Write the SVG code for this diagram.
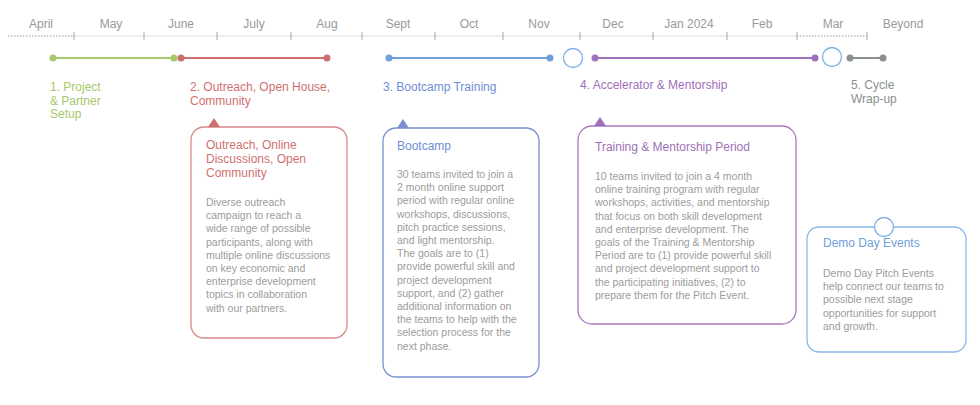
<svg xmlns="http://www.w3.org/2000/svg" width="980" height="405" viewBox="0 0 980 405">
<style>
text{font-family:"Liberation Sans",Arial,sans-serif}
.m{font-size:12px;fill:#9a9a9a;text-anchor:middle}
.b{font-size:10.5px;fill:#9c9c9c}
.t{font-size:12px}
.tick{stroke:#a8a8a8;stroke-width:1}
.box{fill:#fff;stroke-width:1.3}
</style>
<g id="axis">
<line x1="74" y1="36" x2="797" y2="36" stroke="#e0e0e0" stroke-width="1"/>
<line x1="8" y1="36" x2="74" y2="36" stroke="#999" stroke-dasharray="1.5,1.5"/>
<line x1="797" y1="36" x2="867" y2="36" stroke="#999" stroke-dasharray="1.5,1.5"/>
<g class="tick"><line x1="74" y1="32" x2="74" y2="40"/><line x1="144" y1="32" x2="144" y2="40"/><line x1="217" y1="32" x2="217" y2="40"/><line x1="291" y1="32" x2="291" y2="40"/><line x1="362" y1="32" x2="362" y2="40"/><line x1="435" y1="32" x2="435" y2="40"/><line x1="503" y1="32" x2="503" y2="40"/><line x1="580" y1="32" x2="580" y2="40"/><line x1="653" y1="32" x2="653" y2="40"/><line x1="727" y1="32" x2="727" y2="40"/><line x1="797" y1="32" x2="797" y2="40"/><line x1="867" y1="32" x2="867" y2="40"/></g>
<text class="m" x="41" y="28">April</text><text class="m" x="111" y="28">May</text><text class="m" x="181" y="28">June</text><text class="m" x="254" y="28">July</text><text class="m" x="327" y="28">Aug</text><text class="m" x="398" y="28">Sept</text><text class="m" x="469" y="28">Oct</text><text class="m" x="539" y="28">Nov</text><text class="m" x="613" y="28">Dec</text><text class="m" x="689" y="28">Jan 2024</text><text class="m" x="762" y="28">Feb</text><text class="m" x="833" y="28">Mar</text><text class="m" x="903" y="28">Beyond</text>
</g>
<g id="phases">
<g stroke-width="1.8"><line x1="53" y1="58" x2="174" y2="58" stroke="#a6c96a"/><line x1="181" y1="58" x2="327" y2="58" stroke="#cf7070"/><line x1="389" y1="58" x2="550" y2="58" stroke="#6fa0dc"/><line x1="595" y1="58" x2="815" y2="58" stroke="#a070b8"/><line x1="850" y1="58" x2="883" y2="58" stroke="#8a8f8f"/></g>
<circle cx="53" cy="58" r="3.5" fill="#a6c96a"/><circle cx="174" cy="58" r="3.5" fill="#a6c96a"/>
<circle cx="181" cy="58" r="3.5" fill="#cf7070"/><circle cx="327" cy="58" r="3.5" fill="#cf7070"/>
<circle cx="389" cy="58" r="3.5" fill="#6fa0dc"/><circle cx="550" cy="58" r="3.5" fill="#6fa0dc"/>
<circle cx="595" cy="58" r="3.5" fill="#a070b8"/><circle cx="815" cy="58" r="3.5" fill="#a070b8"/>
<circle cx="850" cy="58" r="3.5" fill="#8a8f8f"/><circle cx="883" cy="58" r="3.5" fill="#8a8f8f"/>
<circle cx="573" cy="58" r="9.5" fill="#fff" stroke="#7fb0e6" stroke-width="1.3"/>
<circle cx="832" cy="57" r="9.5" fill="#fff" stroke="#7fb0e6" stroke-width="1.3"/>
<text class="t" fill="#a6c96a" x="50" y="91">1. Project<tspan x="50" dy="13.5">&amp; Partner</tspan><tspan x="50" dy="13.5">Setup</tspan></text>
<text class="t" fill="#cf7070" x="190" y="91">2. Outreach,  Open House,<tspan x="190" dy="13.5">Community</tspan></text>
<text class="t" fill="#6f8ed8" x="383" y="91">3. Bootcamp Training</text>
<text class="t" fill="#a070b8" x="580" y="89">4. Accelerator &amp; Mentorship</text>
<text class="t" fill="#8a8f8f" x="851" y="89">5. Cycle<tspan x="851" dy="14">Wrap-up</tspan></text>
</g>
<g id="outreach">
<rect class="box" x="191" y="127" width="156" height="211" rx="13" stroke="#d88888"/>
<path d="M208 127 L214 118 L220 127Z" fill="#cf7070"/>
<text class="t" fill="#cf7070" x="206" y="149">Outreach, Online<tspan x="206" dy="14">Discussions, Open</tspan><tspan x="206" dy="14">Community</tspan></text>
<text class="b" x="206" y="206">Diverse outreach<tspan x="206" dy="13.2">campaign to reach a</tspan><tspan x="206" dy="13.2">wide range of possible</tspan><tspan x="206" dy="13.2">participants, along with</tspan><tspan x="206" dy="13.2">multiple online discussions</tspan><tspan x="206" dy="13.2">on key economic and</tspan><tspan x="206" dy="13.2">enterprise development</tspan><tspan x="206" dy="13.2">topics in collaboration</tspan><tspan x="206" dy="13.2">with our partners.</tspan></text>
</g>
<g id="bootcamp">
<rect class="box" x="383" y="128" width="156" height="249" rx="13" stroke="#7a8ed0"/>
<path d="M397 128 L403 119 L409 128Z" fill="#7a8ed0"/>
<text class="t" fill="#6f8ed8" x="397" y="150">Bootcamp</text>
<text class="b" x="397" y="178">30 teams invited to join a<tspan x="397" dy="13.2">2 month online support</tspan><tspan x="397" dy="13.2">period with regular online</tspan><tspan x="397" dy="13.2">workshops, discussions,</tspan><tspan x="397" dy="13.2">pitch practice sessions,</tspan><tspan x="397" dy="13.2">and light mentorship.</tspan><tspan x="397" dy="13.2">The goals are to (1)</tspan><tspan x="397" dy="13.2">provide powerful skill and</tspan><tspan x="397" dy="13.2">project development</tspan><tspan x="397" dy="13.2">support, and (2) gather</tspan><tspan x="397" dy="13.2">additional information on</tspan><tspan x="397" dy="13.2">the teams to help with the</tspan><tspan x="397" dy="13.2">selection process for the</tspan><tspan x="397" dy="13.2">next phase.</tspan></text>
</g>
<g id="training">
<rect class="box" x="578" y="126" width="218" height="198" rx="14" stroke="#a878c0"/>
<path d="M594 126 L600 117 L606 126Z" fill="#a070b8"/>
<text class="t" fill="#a070b8" x="595" y="151">Training &amp; Mentorship Period</text>
<text class="b" x="595" y="180">10 teams invited to join a 4 month<tspan x="595" dy="13.2">online training program with regular</tspan><tspan x="595" dy="13.2">workshops, activities, and mentorship</tspan><tspan x="595" dy="13.2">that focus on both skill development</tspan><tspan x="595" dy="13.2">and enterprise development. The</tspan><tspan x="595" dy="13.2">goals of the Training &amp; Mentorship</tspan><tspan x="595" dy="13.2">Period are to (1) provide powerful skill</tspan><tspan x="595" dy="13.2">and project development support to</tspan><tspan x="595" dy="13.2">the participating initiatives, (2) to</tspan><tspan x="595" dy="13.2">prepare them for the Pitch Event.</tspan></text>
</g>
<g id="demoday">
<rect class="box" x="807" y="227" width="159" height="125" rx="12" stroke="#8ab8ea"/>
<circle cx="884" cy="227" r="9.5" fill="#fff" stroke="#7fb0e6" stroke-width="1.3"/>
<text class="t" fill="#6fa0dc" x="823" y="247">Demo Day Events</text>
<text class="b" x="823" y="277">Demo Day Pitch Events<tspan x="823" dy="13.2">help connect our teams to</tspan><tspan x="823" dy="13.2">possible next stage</tspan><tspan x="823" dy="13.2">opportunities for support</tspan><tspan x="823" dy="13.2">and growth.</tspan></text>
</g>
</svg>
